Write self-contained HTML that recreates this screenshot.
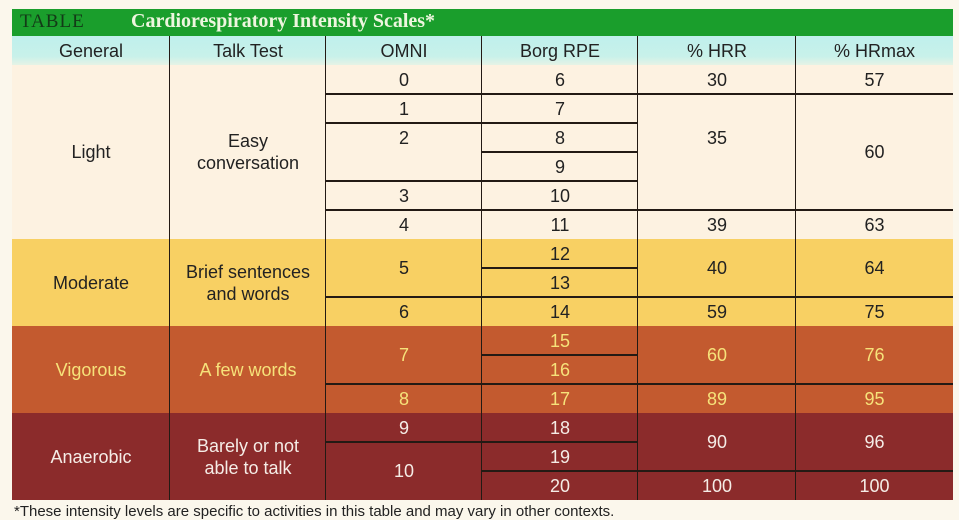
<!DOCTYPE html>
<html><head><meta charset="utf-8"><style>
body{margin:0;width:959px;height:510px;overflow:hidden;background:#fbf7ec;font-family:"Liberation Sans","DejaVu Sans",sans-serif;position:relative}
.b{position:absolute}
.c{position:absolute;display:flex;align-items:center;justify-content:center;text-align:center;font-size:18px;line-height:22px;color:#222}
.L{background:#fdf2e1}.M{background:#f8d063}.V{background:#c35a2f;color:#f6e27a}.A{background:#8b2b2b;color:#f5ece6}
.h{position:absolute;height:1.5px;background:#231a14}
.v{position:absolute;width:1.3px;background:#231a14;top:36px;height:464px}
</style></head><body>
<div class="b" style="left:12px;top:9px;width:941px;height:27px;background:#1a9e2c"></div>
<div class="b" style="left:20px;top:11px;font-family:'Liberation Serif',serif;font-size:19px;color:#133a17;letter-spacing:1px">TABLE</div>
<div class="b" style="left:131px;top:10px;font-family:'Liberation Serif',serif;font-weight:bold;font-size:20px;color:#eef6df">Cardiorespiratory Intensity Scales*</div>
<div class="b" style="left:12px;top:36px;width:941px;height:29px;background:linear-gradient(#bff0ec,#c8f1ea 70%,#e6f3e6)"></div>
<div class="c" style="left:12px;top:36px;width:158px;height:29px">General</div>
<div class="c" style="left:170px;top:36px;width:156px;height:29px">Talk Test</div>
<div class="c" style="left:326px;top:36px;width:156px;height:29px">OMNI</div>
<div class="c" style="left:482px;top:36px;width:156px;height:29px">Borg RPE</div>
<div class="c" style="left:638px;top:36px;width:158px;height:29px">% HRR</div>
<div class="c" style="left:796px;top:36px;width:157px;height:29px">% HRmax</div>

<div class="b L" style="left:12px;top:65px;width:941px;height:174px"></div>
<div class="b M" style="left:12px;top:239px;width:941px;height:87px"></div>
<div class="b V" style="left:12px;top:326px;width:941px;height:87px"></div>
<div class="b A" style="left:12px;top:413px;width:941px;height:87px"></div>

<div class="c" style="left:12px;top:65px;width:158px;height:174px">Light</div>
<div class="c" style="left:170px;top:65px;width:156px;height:174px">Easy<br>conversation</div>
<div class="c" style="left:12px;top:239px;width:158px;height:87px">Moderate</div>
<div class="c" style="left:170px;top:239px;width:156px;height:87px">Brief sentences<br>and words</div>
<div class="c" style="left:12px;top:326px;width:158px;height:87px;color:#f6e27a">Vigorous</div>
<div class="c" style="left:170px;top:326px;width:156px;height:87px;color:#f6e27a">A few words</div>
<div class="c" style="left:12px;top:413px;width:158px;height:87px;color:#f5ece6">Anaerobic</div>
<div class="c" style="left:170px;top:413px;width:156px;height:87px;color:#f5ece6">Barely or not<br>able to talk</div>

<div class="c" style="left:326px;top:65px;width:156px;height:29px">0</div>
<div class="c" style="left:326px;top:94px;width:156px;height:29px">1</div>
<div class="c" style="left:326px;top:123px;width:156px;height:29px">2</div>
<div class="c" style="left:326px;top:181px;width:156px;height:29px">3</div>
<div class="c" style="left:326px;top:210px;width:156px;height:29px">4</div>
<div class="c" style="left:326px;top:239px;width:156px;height:58px">5</div>
<div class="c" style="left:326px;top:297px;width:156px;height:29px">6</div>
<div class="c" style="left:326px;top:326px;width:156px;height:58px;color:#f6e27a">7</div>
<div class="c" style="left:326px;top:384px;width:156px;height:29px;color:#f6e27a">8</div>
<div class="c" style="left:326px;top:413px;width:156px;height:29px;color:#f5ece6">9</div>
<div class="c" style="left:326px;top:442px;width:156px;height:58px;color:#f5ece6">10</div>

<div class="c" style="left:482px;top:65px;width:156px;height:29px">6</div>
<div class="c" style="left:482px;top:94px;width:156px;height:29px">7</div>
<div class="c" style="left:482px;top:123px;width:156px;height:29px">8</div>
<div class="c" style="left:482px;top:152px;width:156px;height:29px">9</div>
<div class="c" style="left:482px;top:181px;width:156px;height:29px">10</div>
<div class="c" style="left:482px;top:210px;width:156px;height:29px">11</div>
<div class="c" style="left:482px;top:239px;width:156px;height:29px">12</div>
<div class="c" style="left:482px;top:268px;width:156px;height:29px">13</div>
<div class="c" style="left:482px;top:297px;width:156px;height:29px">14</div>
<div class="c" style="left:482px;top:326px;width:156px;height:29px;color:#f6e27a">15</div>
<div class="c" style="left:482px;top:355px;width:156px;height:29px;color:#f6e27a">16</div>
<div class="c" style="left:482px;top:384px;width:156px;height:29px;color:#f6e27a">17</div>
<div class="c" style="left:482px;top:413px;width:156px;height:29px;color:#f5ece6">18</div>
<div class="c" style="left:482px;top:442px;width:156px;height:29px;color:#f5ece6">19</div>
<div class="c" style="left:482px;top:471px;width:156px;height:29px;color:#f5ece6">20</div>

<div class="c" style="left:638px;top:65px;width:158px;height:29px">30</div>
<div class="c" style="left:638px;top:94px;width:158px;height:87px">35</div>
<div class="c" style="left:638px;top:210px;width:158px;height:29px">39</div>
<div class="c" style="left:638px;top:239px;width:158px;height:58px">40</div>
<div class="c" style="left:638px;top:297px;width:158px;height:29px">59</div>
<div class="c" style="left:638px;top:326px;width:158px;height:58px;color:#f6e27a">60</div>
<div class="c" style="left:638px;top:384px;width:158px;height:29px;color:#f6e27a">89</div>
<div class="c" style="left:638px;top:413px;width:158px;height:58px;color:#f5ece6">90</div>
<div class="c" style="left:638px;top:471px;width:158px;height:29px;color:#f5ece6">100</div>

<div class="c" style="left:796px;top:65px;width:157px;height:29px">57</div>
<div class="c" style="left:796px;top:94px;width:157px;height:116px">60</div>
<div class="c" style="left:796px;top:210px;width:157px;height:29px">63</div>
<div class="c" style="left:796px;top:239px;width:157px;height:58px">64</div>
<div class="c" style="left:796px;top:297px;width:157px;height:29px">75</div>
<div class="c" style="left:796px;top:326px;width:157px;height:58px;color:#f6e27a">76</div>
<div class="c" style="left:796px;top:384px;width:157px;height:29px;color:#f6e27a">95</div>
<div class="c" style="left:796px;top:413px;width:157px;height:58px;color:#f5ece6">96</div>
<div class="c" style="left:796px;top:471px;width:157px;height:29px;color:#f5ece6">100</div>

<div class="v" style="left:169px"></div>
<div class="v" style="left:325px"></div>
<div class="v" style="left:481px"></div>
<div class="v" style="left:637px"></div>
<div class="v" style="left:795px"></div>

<div class="h" style="left:326px;top:93px;width:627px"></div>
<div class="h" style="left:326px;top:122px;width:312px"></div>
<div class="h" style="left:482px;top:151px;width:156px"></div>
<div class="h" style="left:326px;top:180px;width:312px"></div>
<div class="h" style="left:326px;top:209px;width:627px"></div>
<div class="h" style="left:482px;top:267px;width:156px"></div>
<div class="h" style="left:326px;top:296px;width:627px"></div>
<div class="h" style="left:482px;top:354px;width:156px"></div>
<div class="h" style="left:326px;top:383px;width:627px"></div>
<div class="h" style="left:326px;top:441px;width:312px"></div>
<div class="h" style="left:482px;top:470px;width:471px"></div>

<div class="b" style="left:14px;top:503px;font-size:15px;color:#222;white-space:nowrap">*These intensity levels are specific to activities in this table and may vary in other contexts.</div>
</body></html>
